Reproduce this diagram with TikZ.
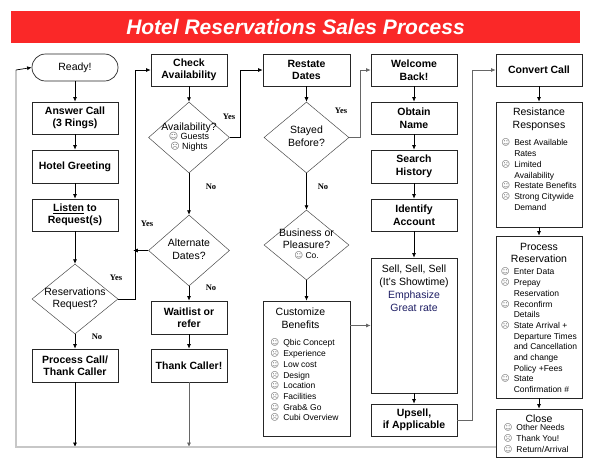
\documentclass[tikz,border=0pt]{standalone}
\usepackage{fontspec}
\setmainfont{Liberation Sans}
\newfontfamily\symfont{DejaVu Sans}
\newfontfamily\ynfont{Liberation Serif}
\usetikzlibrary{shapes.geometric,arrows.meta,positioning}

\definecolor{bannerred}{RGB}{250,40,40}
\newcommand{\smy}{{\symfont\color{black!55}☺}}
\newcommand{\frw}{{\symfont\color{black!55}☹}}
\newcommand{\dia}[1]{\makebox[0pt]{\smash{\raisebox{-2.5pt}{\begin{tabular}{@{}c@{}}#1\end{tabular}}}}}
\newcommand{\lst}[1]{{\fontsize{8.5}{10.7}\selectfont\begin{tabular}{@{}c@{\hspace{4pt}}l@{}}#1\end{tabular}}}

\tikzset{
  proc/.style={draw=black!85, minimum width=86pt, minimum height=32pt, inner sep=1pt,
    align=center, font=\fontsize{10.5}{12.5}\selectfont\bfseries},
  decis/.style={diamond, draw=black!70, line width=0.5pt, minimum width=81pt,
    minimum height=70pt, inner sep=0pt, font=\fontsize{10.5}{12.5}\selectfont},
  listbox/.style={draw=black!85, minimum width=86pt, inner sep=0pt},
  boxtext/.style={inner sep=0pt, align=center, font=\fontsize{10.5}{12.5}\selectfont},
  lsttext/.style={inner sep=0pt},
  yn/.style={font=\ynfont\bfseries\fontsize{8.5}{9}\selectfont, inner sep=0pt},
  loopln/.style={draw=black!22, line width=1.4pt},
}

\begin{document}
\begin{tikzpicture}[x=1pt,y=-1pt,>={Latex[length=4.5pt,width=4pt]},line width=0.7pt]
\useasboundingbox (0,0) rectangle (594,461);
\node[fill=bannerred, minimum width=569pt, minimum height=32pt, text=white,
  font=\fontsize{21}{24}\selectfont\bfseries\itshape] (title) at (295.5,27) {Hotel Reservations Sales Process};

% first column
\node[proc, rounded corners=13.5pt, minimum height=27pt, font=\fontsize{10.5}{12.5}\selectfont] (ready) at (75,67.5) {Ready!};
\node[proc] (answer) at (75,118) {Answer Call\\(3 Rings)};
\node[proc, minimum height=33pt] (greet) at (75,166.5) {Hotel Greeting};
\node[proc] (listen) at (75,215) {\underline{Listen} to\\Request(s)};
\node[decis, minimum width=86pt] (resreq) at (75,299) {\dia{Reservations\\Request?}};
\node[proc, minimum height=33pt] (proccall) at (75,365.5) {Process Call/\\Thank Caller};

% second column
\node[proc, minimum width=76pt] (check) at (189,70) {Check\\Availability};
\node[decis, minimum height=71pt] (avail) at (189,137.5) {\dia{Availability?\\[-3pt]
  {\fontsize{9}{10}\selectfont\smy\ Guests}\\[-3pt]{\fontsize{9}{10}\selectfont\frw\ Nights}}};
\node[decis, minimum height=71pt] (alt) at (189,250.5) {\dia{Alternate\\Dates?}};
\node[proc, minimum width=76pt, minimum height=33pt] (waitlist) at (189,317.5) {Waitlist or\\refer};
\node[proc, minimum width=76pt, minimum height=33pt] (thank) at (189,365.5) {Thank Caller!};

% third column
\node[proc, minimum width=87pt] (restate) at (306.5,70) {Restate\\Dates};
\node[decis, minimum width=85pt, minimum height=71pt] (stayed) at (306.5,137.5) {\dia{Stayed\\Before?}};
\node[decis, minimum width=85pt] (business) at (306.5,245) {\dia{Business or\\Pleasure?\\[-3pt]
  {\fontsize{8.5}{10}\selectfont\smy\ Co.}}};
\node[listbox, minimum width=87pt, minimum height=135pt] (custom) at (306.5,368.5) {};
\node[boxtext, below=7pt of custom.north, xshift=-6pt] (custom-t) {Customize\\Benefits};
\node[lsttext, below=37.5pt of custom.north, xshift=-2pt] (custom-l) {\lst{\smy & Qbic Concept\\
  \frw & Experience\\ \smy & Low cost\\ \frw & Design\\ \smy & Location\\ \frw & Facilities\\
  \smy & Grab\& Go\\ \frw & Cubi Overview}};

% fourth column
\node[proc] (welcome) at (414,70) {Welcome\\Back!};
\node[proc] (obtain) at (414,118) {Obtain\\Name};
\node[proc, minimum height=33pt] (search) at (414,166.5) {Search\\History};
\node[proc] (identify) at (414,215) {Identify\\Account};
\node[listbox, minimum height=135pt] (sell) at (414,325.5) {};
\node[boxtext, below=6.5pt of sell.north, font=\fontsize{10.5}{13}\selectfont] (sell-t) {Sell, Sell, Sell\\(It's Showtime)\\
  \textcolor[RGB]{30,30,100}{Emphasize}\\\textcolor[RGB]{30,30,100}{Great rate}};
\node[proc] (upsell) at (414,420) {Upsell,\\if Applicable};

% fifth column
\node[proc] (convert) at (539,70) {Convert Call};
\node[listbox, minimum height=125pt] (resist) at (539,164.5) {};
\node[boxtext, below=6pt of resist.north] (resist-t) {Resistance\\Responses};
\node[lsttext, below=36.5pt of resist.north] (resist-l) {\lst{\smy & Best Available\\ & Rates\\
  \frw & Limited\\ & Availability\\ \smy & Restate Benefits\\ \frw & Strong Citywide\\ & Demand}};
\node[listbox, minimum height=162pt] (procres) at (539,317) {};
\node[boxtext, below=7pt of procres.north] (procres-t) {Process\\Reservation};
\node[lsttext, below=31.5pt of procres.north] (procres-l) {\lst{\smy & Enter Data\\ \frw & Prepay\\
  & Reservation\\ \smy & Reconfirm\\ & Details\\ \frw & State Arrival +\\ & Departure Times\\
  & and Cancellation\\ & and change\\ & Policy +Fees\\ \smy & State\\ & Confirmation \#}};
\node[listbox, minimum height=48pt] (close) at (539,433) {};
\node[boxtext, below=6pt of close.north] (close-t) {Close};
\node[lsttext, below=14.5pt of close.north, xshift=-3pt] (close-l) {\lst{\smy & Other Needs\\
  \frw & Thank You!\\ \smy & Return/Arrival}};

% yes / no
\node[yn] (avail-yes) at (229,117) {Yes};
\node[yn] (avail-no) at (211,187) {No};
\node[yn] (alt-yes) at (147,224) {Yes};
\node[yn] (alt-no) at (211,288) {No};
\node[yn] (res-yes) at (116,278) {Yes};
\node[yn] (res-no) at (97,337) {No};
\node[yn] (stay-yes) at (341,111) {Yes};
\node[yn] (stay-no) at (323,187) {No};

\coordinate (bot) at (0,447);

\draw[->] (ready) -- (answer);
\draw[->] (answer) -- (greet);
\draw[->] (greet) -- (listen);
\draw[->] (listen) -- (resreq);
\draw[->] (resreq) -- (proccall);
\draw[->] (proccall) -- (proccall |- bot);
\draw[->] (resreq.east) -- ++(17,0) |- (check.west);
\draw[->] (alt.west) -- ++(-15,0);
\draw[->] (check) -- (avail);
\draw[->] (avail) -- (alt);
\draw[->] (alt) -- (waitlist);
\draw[->] (waitlist) -- (thank);
\draw[->,black!60] (thank) -- (thank |- bot);
\draw[->] (avail.east) -- ++(11,0) |- (restate.west);
\draw[->] (restate) -- (stayed);
\draw[->] (stayed) -- (business);
\draw[->] (business) -- (custom);
\draw[->,black!60] (custom.east |- sell.west) -- (sell.west);
\draw[->,black!60] (stayed.east) -- ++(11,0) |- (welcome.west);
\draw[->] (welcome) -- (obtain);
\draw[->] (obtain) -- (search);
\draw[->] (search) -- (identify);
\draw[->] (identify) -- (sell);
\draw[->] (sell) -- (upsell);
\draw[->,black!60] (upsell.east) -- ++(15,0) |- (convert.west);
\draw[->] (convert) -- (resist);
\draw[->] (resist) -- (procres);
\draw[->] (procres) -- (close);
\draw[loopln] (close.west |- bot) -- (16,447) -- (16,70);
\draw[->] (16,70) -- (ready.west);
\end{tikzpicture}
\end{document}
